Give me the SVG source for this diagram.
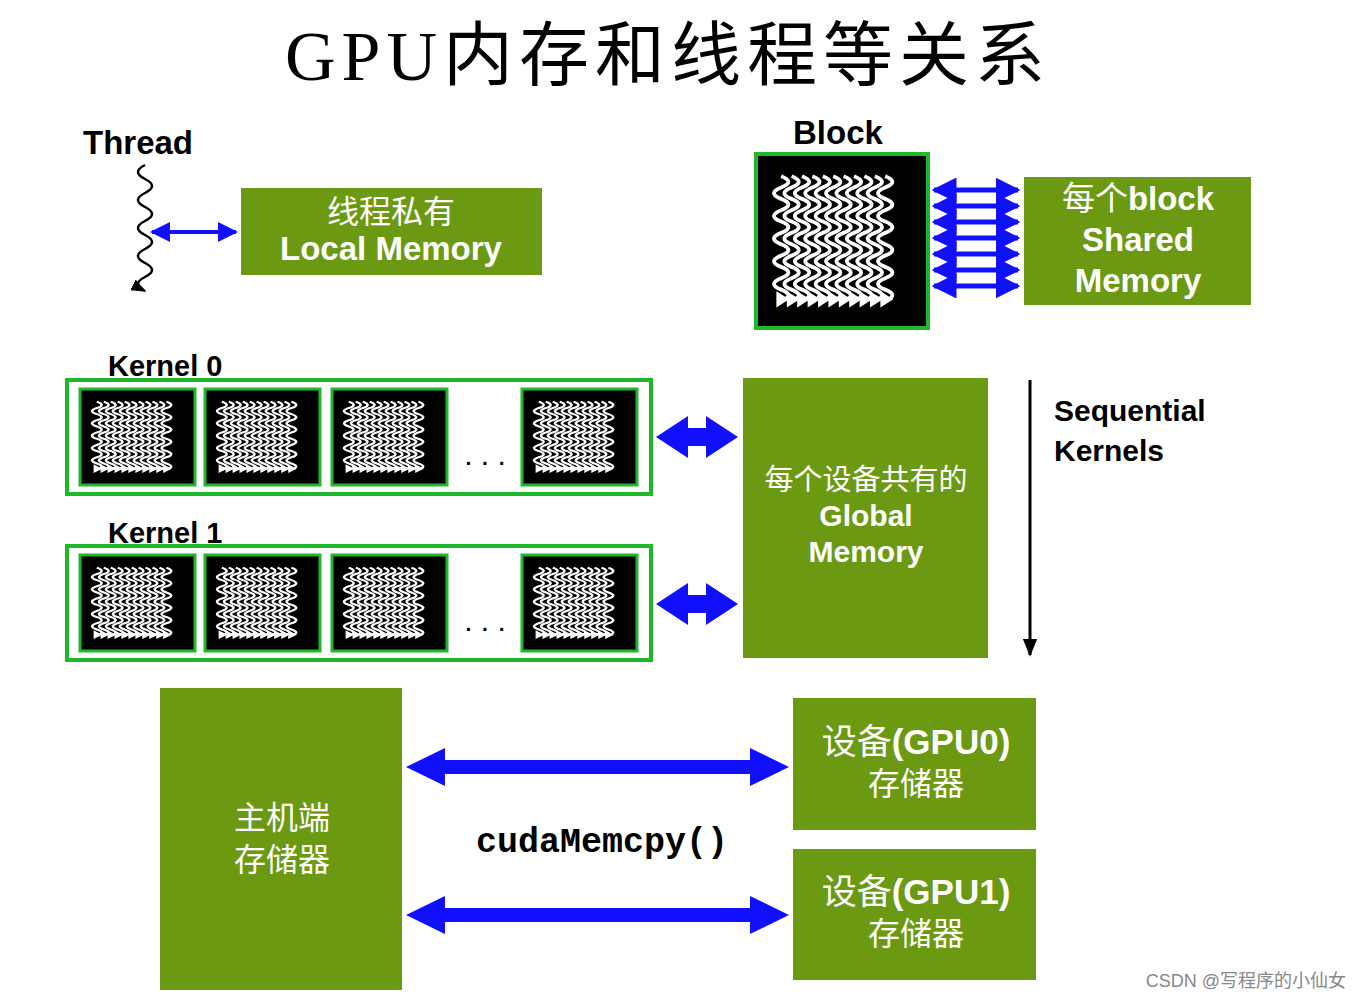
<svg xmlns="http://www.w3.org/2000/svg" xmlns:xlink="http://www.w3.org/1999/xlink" width="1363" height="999" viewBox="0 0 1363 999">
<style>
.g{fill:#6b9a12}
.wt{fill:#fff;font-family:"Liberation Sans","Noto Sans CJK SC",sans-serif;font-weight:bold;text-anchor:middle}
.zh{fill:#fff;font-family:"Noto Sans CJK SC",sans-serif;text-anchor:middle}
.bk{fill:#000;font-family:"Liberation Sans",sans-serif;font-weight:bold}
.blue{stroke:#1010ff;fill:none}
.tile{fill:#000;stroke:#1fb82a;stroke-width:3}
</style>
<defs>
<marker id="ba" viewBox="0 0 10 10" refX="9" refY="5" markerWidth="5" markerHeight="5" orient="auto-start-reverse"><path d="M0,0L10,5L0,10z" fill="#1010ff"/></marker>
<marker id="ka" viewBox="0 0 10 10" refX="9" refY="5" markerWidth="6" markerHeight="6" orient="auto"><path d="M0,1L10,5L0,9z" fill="#000"/></marker>
<path id="wv" d="M0 10q9 3.5 0 7t0 7t0 7t0 7t0 7t0 7t0 7t0 7t0 7t0 7t0 7" fill="none" stroke="#fff" stroke-width="2.4"/>
<path id="tri" d="M-3 81L5 86L-3 91z" fill="#fff"/>
<symbol id="blk" viewBox="0 0 100 100" preserveAspectRatio="none">
<rect width="100" height="100" fill="#000"/>
<g transform="translate(12,0)">
<use href="#wv" x="0"/><use href="#wv" x="6.5"/><use href="#wv" x="13"/><use href="#wv" x="19.5"/><use href="#wv" x="26"/><use href="#wv" x="32.5"/><use href="#wv" x="39"/><use href="#wv" x="45.5"/><use href="#wv" x="52"/><use href="#wv" x="58.5"/><use href="#wv" x="65"/>
<use href="#tri" x="0"/><use href="#tri" x="6.5"/><use href="#tri" x="13"/><use href="#tri" x="19.5"/><use href="#tri" x="26"/><use href="#tri" x="32.5"/><use href="#tri" x="39"/><use href="#tri" x="45.5"/><use href="#tri" x="52"/><use href="#tri" x="58.5"/><use href="#tri" x="65"/>
</g>
</symbol>
</defs>
<rect width="1363" height="999" fill="#fff"/>
<text x="668" y="80" font-family="'Liberation Serif','Noto Sans CJK SC',serif" font-size="70" letter-spacing="6" text-anchor="middle">GPU内存和线程等关系</text>

<g id="thread">
<text class="bk" x="83" y="154" font-size="33">Thread</text>
<path d="M145 165q-14 7 0 14t0 14t0 14t0 14t0 14t0 14t0 14t0 14t0 14" fill="none" stroke="#000" stroke-width="2.5" marker-end="url(#ka)"/>
</g>
<g id="local"><rect class="g" x="241" y="188" width="301" height="87"/>
<text class="zh" x="391" y="223" font-size="32">线程私有</text>
<text class="wt" x="391" y="260" font-size="33">Local Memory</text></g>

<g id="block">
<text class="bk" x="793" y="144" font-size="33">Block</text>
<rect x="756" y="154" width="172" height="174" fill="#000" stroke="#1fb82a" stroke-width="4"/>
<use href="#blk" x="762" y="160" width="160" height="162"/>
</g>
<g id="shared"><rect class="g" x="1024" y="177" width="227" height="128"/>
<text class="wt" x="1138" y="210" font-size="33"><tspan font-family="'Noto Sans CJK SC',sans-serif" font-weight="normal">每个</tspan>block</text>
<text class="wt" x="1138" y="251" font-size="33">Shared</text>
<text class="wt" x="1138" y="292" font-size="33">Memory</text></g>

<g id="kernel0">
<text class="bk" x="108" y="376" font-size="29">Kernel 0</text>
<rect x="67" y="380" width="584" height="114" fill="none" stroke="#1fb82a" stroke-width="4"/>
<rect class="tile" x="80" y="389" width="115" height="96"/><use href="#blk" x="84" y="393" width="107" height="88"/>
<rect class="tile" x="205" y="389" width="115" height="96"/><use href="#blk" x="209" y="393" width="107" height="88"/>
<rect class="tile" x="332" y="389" width="115" height="96"/><use href="#blk" x="336" y="393" width="107" height="88"/>
<rect class="tile" x="522" y="389" width="115" height="96"/><use href="#blk" x="526" y="393" width="107" height="88"/>
<text x="485" y="465" font-family="Liberation Sans,sans-serif" font-size="30" text-anchor="middle">. . .</text>
</g>
<g id="kernel1">
<text class="bk" x="108" y="543" font-size="29">Kernel 1</text>
<rect x="67" y="546" width="584" height="114" fill="none" stroke="#1fb82a" stroke-width="4"/>
<rect class="tile" x="80" y="555" width="115" height="96"/><use href="#blk" x="84" y="559" width="107" height="88"/>
<rect class="tile" x="205" y="555" width="115" height="96"/><use href="#blk" x="209" y="559" width="107" height="88"/>
<rect class="tile" x="332" y="555" width="115" height="96"/><use href="#blk" x="336" y="559" width="107" height="88"/>
<rect class="tile" x="522" y="555" width="115" height="96"/><use href="#blk" x="526" y="559" width="107" height="88"/>
<text x="485" y="631" font-family="Liberation Sans,sans-serif" font-size="30" text-anchor="middle">. . .</text>
</g>
<g id="global"><rect class="g" x="743" y="378" width="245" height="280"/>
<text class="zh" x="866" y="490" font-size="29">每个设备共有的</text>
<text class="wt" x="866" y="526" font-size="30">Global</text>
<text class="wt" x="866" y="562" font-size="30">Memory</text></g>
<g id="seq">
<text class="bk" x="1054" y="421" font-size="30">Sequential</text>
<text class="bk" x="1054" y="461" font-size="30">Kernels</text>
</g>
<g id="host"><rect class="g" x="160" y="688" width="242" height="302"/>
<text class="zh" x="282" y="829" font-size="32">主机端</text>
<text class="zh" x="282" y="871" font-size="32">存储器</text></g>
<g id="gpu0"><rect class="g" x="793" y="698" width="243" height="132"/>
<text class="wt" x="916" y="754" font-size="35"><tspan font-family="'Noto Sans CJK SC',sans-serif" font-weight="normal">设备</tspan>(GPU0)</text>
<text class="zh" x="916" y="795" font-size="32">存储器</text></g>
<g id="gpu1"><rect class="g" x="793" y="849" width="243" height="131"/>
<text class="wt" x="916" y="904" font-size="35"><tspan font-family="'Noto Sans CJK SC',sans-serif" font-weight="normal">设备</tspan>(GPU1)</text>
<text class="zh" x="916" y="945" font-size="32">存储器</text></g>
<text x="602" y="852" font-family="'Liberation Mono',monospace" font-weight="bold" font-size="35" text-anchor="middle">cudaMemcpy()</text>

<g id="connectors">
<line class="blue" x1="152" y1="232" x2="236" y2="232" stroke-width="4" marker-start="url(#ba)" marker-end="url(#ba)"/>
<g stroke-width="5">
<line class="blue" x1="934" y1="190" x2="1018" y2="190" marker-start="url(#ba)" marker-end="url(#ba)"/>
<line class="blue" x1="934" y1="206" x2="1018" y2="206" marker-start="url(#ba)" marker-end="url(#ba)"/>
<line class="blue" x1="934" y1="222" x2="1018" y2="222" marker-start="url(#ba)" marker-end="url(#ba)"/>
<line class="blue" x1="934" y1="238" x2="1018" y2="238" marker-start="url(#ba)" marker-end="url(#ba)"/>
<line class="blue" x1="934" y1="254" x2="1018" y2="254" marker-start="url(#ba)" marker-end="url(#ba)"/>
<line class="blue" x1="934" y1="270" x2="1018" y2="270" marker-start="url(#ba)" marker-end="url(#ba)"/>
<line class="blue" x1="934" y1="286" x2="1018" y2="286" marker-start="url(#ba)" marker-end="url(#ba)"/>
</g>
<path d="M656 437L688 416V428H706V416L738 437L706 458V446H688V458z" fill="#1010ff"/>
<path d="M656 604L688 583V595H706V583L738 604L706 625V613H688V625z" fill="#1010ff"/>
<path d="M406 767L445 748V760H750V748L789 767L750 786V774H445V786z" fill="#1010ff"/>
<path d="M406 915L445 896V908H750V896L789 915L750 934V922H445V934z" fill="#1010ff"/>
<line x1="1030" y1="380" x2="1030" y2="655" stroke="#000" stroke-width="3" marker-end="url(#ka)"/>
</g>
<text x="1346" y="987" font-family="'Liberation Sans','Noto Sans CJK SC',sans-serif" font-size="18" fill="#888" text-anchor="end">CSDN @写程序的小仙女</text>
</svg>
